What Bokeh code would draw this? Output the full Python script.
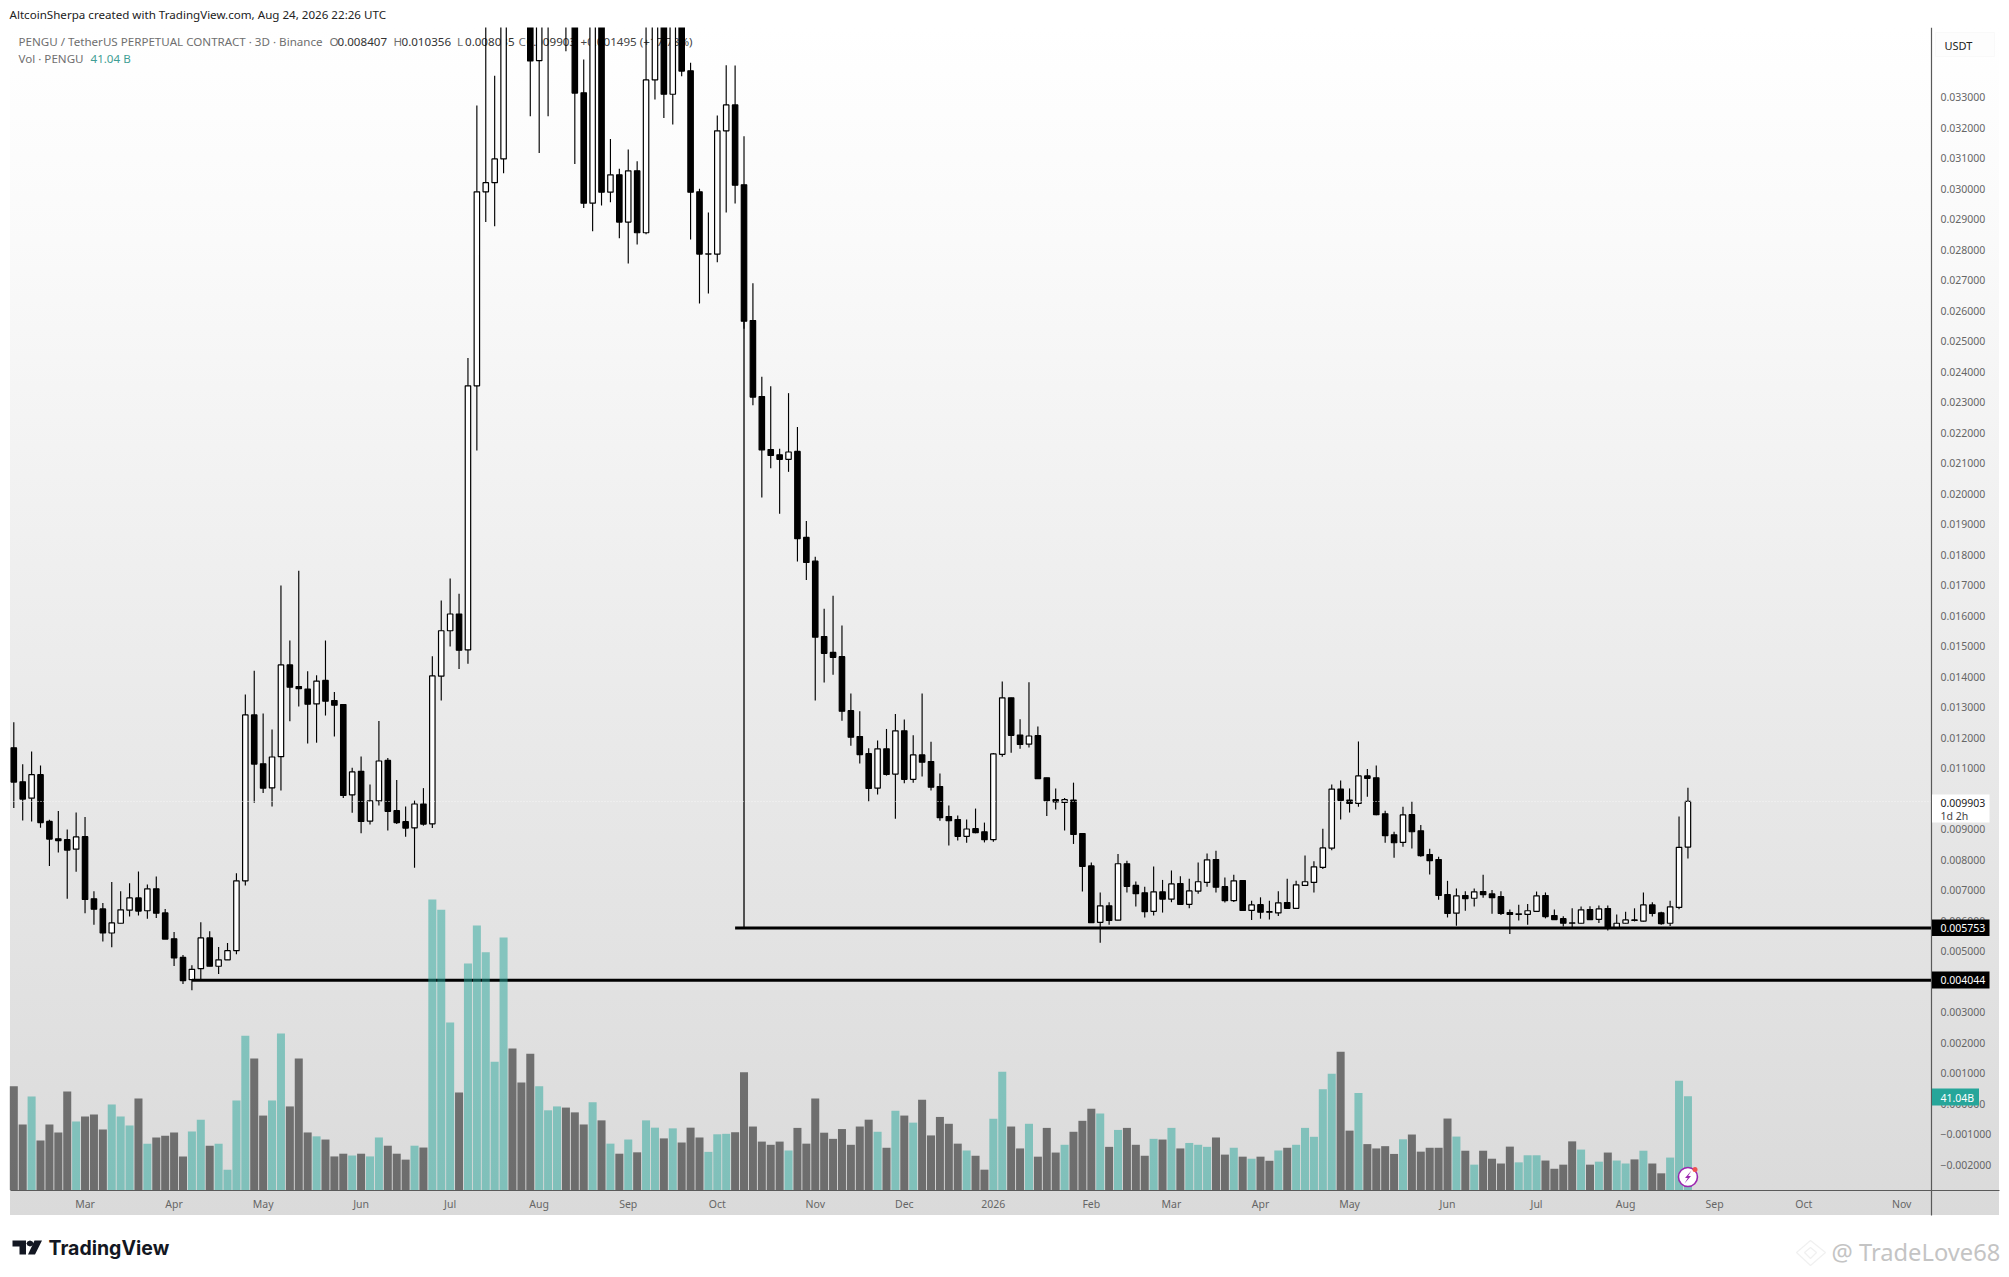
from bokeh.plotting import figure
from bokeh.models import (Range1d, LinearAxis, FixedTicker, Label, BoxAnnotation,
                          PolyAnnotation, ColumnDataSource)
from bokeh.embed import file_html
from bokeh.resources import INLINE

# Prices in units of 0.001 USDT, one entry per 3-day candle
opens = [11.66,10.55,10.01,10.78,9.25,8.68,8.65,8.34,8.75,6.71,
 6.38,5.59,5.91,6.34,6.74,6.32,7.04,6.25,5.40,4.79,
 4.06,4.42,5.43,4.50,4.71,5.01,7.30,12.74,11.14,10.35,
 11.37,14.38,13.67,13.59,13.10,13.87,13.21,13.08,10.12,10.89,
 9.26,9.92,11.25,9.60,9.24,9.04,9.82,9.17,14.01,15.50,
 16.05,14.87,23.53,29.89,30.19,30.97,40.00,40.00,38.50,34.19,
 36.00,36.00,37.00,38.00,33.14,29.52,37.00,29.88,30.45,28.90,
 30.58,28.55,33.56,36.50,33.09,37.00,33.86,29.89,27.85,27.85,
 31.89,32.74,30.12,25.67,23.18,21.44,21.27,21.12,21.38,18.56,
 17.78,15.31,14.79,14.65,12.88,12.03,11.47,10.34,11.63,10.80,
 12.22,10.63,11.43,11.21,10.39,9.41,9.31,8.76,9.01,8.91,
 8.65,11.45,13.30,12.08,11.78,12.06,10.68,9.96,9.87,9.95,
 8.85,7.79,5.94,6.48,6.01,7.86,7.15,6.91,6.30,6.94,
 6.70,7.21,6.53,6.96,7.25,8.00,7.11,6.65,7.31,6.33,
 6.52,6.29,6.25,6.59,6.40,7.15,7.25,7.74,8.37,10.31,
 9.95,9.84,10.74,10.68,9.50,8.81,8.56,9.47,8.94,8.16,
 8.00,6.85,6.24,6.82,6.73,6.95,6.87,6.78,6.26,6.20,
 6.20,6.30,6.82,6.16,6.06,5.92,5.91,6.36,6.04,6.39,
 5.77,5.91,6.02,5.98,6.51,6.25,5.91,6.43,8.407]
highs = [12.50,11.12,11.54,11.08,9.30,9.59,8.98,9.54,9.39,6.96,
 6.57,7.26,6.96,7.22,7.61,7.18,7.44,6.38,5.62,4.87,
 4.53,5.94,5.65,5.13,5.26,7.55,13.41,14.19,12.79,12.26,
 16.98,15.18,17.47,14.17,14.04,15.18,13.49,13.08,11.01,11.38,
 10.46,12.54,11.33,10.61,9.74,9.93,10.34,14.66,16.49,17.21,
 16.71,24.44,32.72,36.00,33.70,38.50,41.50,42.00,40.00,39.00,
 38.50,40.00,38.50,39.00,34.23,38.00,38.00,31.62,30.65,31.28,
 30.89,36.50,37.00,37.50,38.00,38.00,34.12,29.99,29.21,32.39,
 34.04,34.03,31.71,26.89,23.83,23.52,21.47,23.29,22.18,19.10,
 17.93,16.22,16.65,15.67,13.44,12.86,11.65,11.90,12.28,12.77,
 12.59,12.07,13.44,11.86,10.82,9.77,9.44,9.31,9.67,9.21,
 11.49,13.84,13.30,12.60,13.81,12.36,10.68,10.33,10.02,10.52,
 8.86,7.90,6.92,6.60,8.18,7.96,7.28,7.11,7.77,7.33,
 7.64,7.45,7.37,7.90,8.20,8.29,7.41,7.50,7.33,6.65,
 6.76,6.65,6.96,7.37,7.30,8.13,7.94,9.01,10.46,10.59,
 10.33,11.87,10.97,11.08,9.60,8.91,9.73,9.90,9.13,8.35,
 8.09,7.30,7.05,6.96,7.05,7.50,7.00,6.96,6.36,6.52,
 6.54,6.95,6.92,6.36,6.14,6.40,6.46,6.47,6.49,6.49,
 6.20,6.29,6.40,6.92,6.60,6.29,6.65,9.41,10.356]
lows = [9.69,9.28,9.25,9.04,7.79,8.23,6.71,7.60,6.24,5.86,
 5.31,5.12,5.91,6.13,6.16,6.06,6.08,5.39,4.51,3.92,
 3.71,4.06,4.50,4.25,4.71,4.89,7.15,9.86,10.18,9.74,
 10.26,12.53,13.02,11.80,11.83,12.72,12.03,10.02,9.53,8.86,
 9.15,9.77,8.95,9.16,8.75,7.73,9.11,9.03,13.21,14.98,
 14.25,14.42,21.41,28.90,28.76,30.50,36.50,36.20,32.37,31.16,
 32.37,35.80,34.50,30.80,29.36,28.60,29.44,29.55,28.37,27.54,
 28.16,28.50,32.92,32.31,32.10,33.68,28.33,26.23,26.56,27.58,
 29.21,29.51,25.40,22.89,19.87,20.83,19.34,20.71,17.77,17.16,
 13.21,13.80,14.06,12.55,11.73,11.15,9.90,10.13,10.75,9.34,
 10.50,10.52,10.72,10.26,9.27,8.46,8.62,8.55,8.86,8.56,
 8.58,11.37,11.50,11.63,11.67,10.64,9.43,9.64,8.95,8.51,
 6.95,5.93,5.27,5.86,6.01,6.92,6.46,6.10,6.16,6.26,
 6.60,6.53,6.40,6.88,7.11,6.92,6.59,6.61,6.33,6.02,
 6.06,6.03,6.15,6.40,6.39,7.15,6.92,7.69,8.30,9.31,
 9.54,9.73,10.06,9.45,8.55,8.06,8.42,8.36,8.09,7.51,
 6.68,6.10,5.83,6.32,6.46,6.75,6.22,6.18,5.56,6.00,
 5.86,6.29,6.07,6.02,5.80,5.78,5.90,6.02,5.92,5.67,
 5.77,5.90,5.97,5.97,6.13,5.86,5.82,6.37,8.035]
closes = [10.54,9.98,10.78,9.21,8.67,8.62,8.31,8.74,6.69,6.37,
 5.59,5.92,6.35,6.74,6.31,7.04,6.24,5.39,4.77,4.03,
 4.40,5.43,4.50,4.71,5.01,7.30,12.74,11.13,10.34,11.36,
 14.38,13.65,13.60,13.09,13.85,13.19,13.06,10.10,10.87,9.25,
 9.92,11.23,9.58,9.21,9.03,9.82,9.16,14.02,15.50,16.05,
 14.86,23.53,29.89,30.19,30.97,37.50,38.00,39.00,34.18,37.50,
 37.50,37.50,36.20,33.13,29.52,37.00,29.88,30.45,28.90,30.58,
 28.55,33.56,36.00,33.09,37.00,33.85,29.88,27.85,27.86,31.89,
 32.74,30.11,25.65,23.16,21.43,21.25,21.12,21.36,18.52,17.74,
 15.29,14.76,14.63,12.86,12.01,11.44,10.33,11.63,10.79,12.22,
 10.63,11.43,11.19,10.37,9.37,9.27,8.76,9.00,8.88,8.65,
 11.46,13.30,12.07,11.77,12.05,10.65,9.93,9.89,9.96,8.82,
 7.77,5.93,6.48,6.00,7.86,7.12,6.88,6.29,6.94,6.70,
 7.20,6.53,6.97,7.27,7.99,7.09,6.65,7.30,6.33,6.51,
 6.27,6.27,6.58,6.40,7.17,7.27,7.76,8.38,10.31,9.94,
 9.84,10.74,10.66,9.47,8.78,8.55,9.46,8.91,8.13,7.96,
 6.82,6.23,6.81,6.72,6.94,6.85,6.75,6.23,6.20,6.22,
 6.32,6.81,6.13,6.03,5.91,5.91,6.35,6.03,6.38,5.78,
 5.91,6.02,6.00,6.51,6.23,5.90,6.45,8.40,9.903]
# Volume in billions of PENGU
volumes = [45.4,28.7,41.0,21.7,28.7,25.2,43.1,30.0,32.2,33.1,
 26.5,37.5,32.2,28.2,40.1,20.3,23.0,23.8,25.2,14.7,
 25.6,30.8,19.4,20.3,8.9,39.2,67.6,57.6,32.6,39.2,
 68.5,36.6,57.6,25.2,23.5,22.1,14.7,15.9,15.1,15.9,
 14.7,23.0,19.4,15.9,13.3,19.4,18.6,127.2,122.8,73.4,
 42.7,99.2,115.8,104.1,56.2,110.6,62.0,47.1,59.7,45.4,
 34.9,36.6,36.1,34.0,28.7,38.4,30.5,20.3,15.9,22.1,
 16.5,30.5,27.3,22.6,27.0,20.8,27.3,23.0,16.7,24.4,
 24.6,25.3,51.6,27.8,21.2,19.8,21.2,17.3,27.2,20.3,
 40.1,25.1,22.4,26.7,19.8,27.8,30.8,25.5,18.5,34.7,
 32.6,29.5,39.5,23.9,32.0,29.0,20.3,17.3,15.0,8.9,
 31.2,51.8,27.8,18.2,29.0,14.6,27.2,16.4,19.8,25.5,
 30.3,35.6,33.5,18.9,26.3,27.2,19.8,15.0,22.4,22.1,
 27.2,18.2,20.6,19.8,18.9,23.0,15.5,18.5,14.6,13.7,
 14.6,12.8,17.3,18.5,19.8,27.2,23.3,44.1,50.9,60.5,
 26.0,42.5,20.1,18.2,19.2,15.8,22.2,24.3,16.8,18.5,
 18.5,31.3,23.4,17.2,11.1,17.2,13.7,11.6,19.0,12.1,
 15.2,15.2,12.9,9.3,11.1,21.3,17.7,11.1,12.4,16.4,
 12.9,11.6,13.4,17.2,11.6,7.3,14.2,47.9,41.04]

month_ticks = [8,18,28,39,49,59,69,79,90,100,110,121,130,140,150,161,171,181,191,201,212]
month_labels = ["Mar","Apr","May","Jun","Jul","Aug","Sep","Oct","Nov","Dec","2026",
                "Feb","Mar","Apr","May","Jun","Jul","Aug","Sep","Oct","Nov"]
price_ticks = list(range(-2, 34))
price_labels = ["\u22120.002000","\u22120.001000","0.000000","0.001000","0.002000","0.003000",
 "0.004000","0.005000","0.006000","0.007000","0.008000","0.009000","0.010000","0.011000",
 "0.012000","0.013000","0.014000","0.015000","0.016000","0.017000","0.018000","0.019000",
 "0.020000","0.021000","0.022000","0.023000","0.024000","0.025000","0.026000","0.027000",
 "0.028000","0.029000","0.030000","0.031000","0.032000","0.033000"]
support_levels = [5.753, 4.044]
support_starts = [81, 20]
last_price = 9.903

# Reference-pixel helpers for decoration only
FL, FT, FR, FB = 10, 27, 1931, 1189.5
W, H = 2009, 1277
def fx(px): return (px - 13.3) / 8.905
def fy(py): return 36.164 - py / 30.5

FONT = "Noto Sans"
p = figure(width=W, height=H, output_backend="svg", toolbar_location=None,
           x_range=Range1d(fx(0), fx(W)), y_range=Range1d(fy(H), fy(0)),
           x_axis_location=None, y_axis_location=None, min_border=0,
           background_fill_color=None, border_fill_color=None, outline_line_color=None)
p.grid.visible = False
p.styles = {
    "background-image": "linear-gradient(#ffffff, #fafafa 18%, #ebebeb 55%, #dadada 100%)",
    "background-repeat": "no-repeat",
    "background-size": "1989px 1188px",
    "background-position": "10px 27px",
}
p.extra_y_ranges = {"vol": Range1d(-(H - FB) * 0.438, FB * 0.438)}

# axes, pinned inside the full-page frame
ax_y = LinearAxis(ticker=FixedTicker(ticks=price_ticks),
                  major_label_overrides=dict(zip(price_ticks, price_labels)),
                  major_tick_line_color=None, minor_tick_line_color=None,
                  major_tick_out=0, major_tick_in=0, minor_tick_out=0, minor_tick_in=0,
                  axis_line_color="#5a5a5a", axis_line_width=1.2,
                  major_label_standoff=9, major_label_text_font=FONT,
                  major_label_text_font_size="10.5px", major_label_text_color="#666666",
                  fixed_location=fx(FR), bounds=(fy(1215), fy(FT)))
p.add_layout(ax_y, "right")
ax_x = LinearAxis(ticker=FixedTicker(ticks=month_ticks),
                  major_label_overrides=dict(zip(month_ticks, month_labels)),
                  major_tick_line_color=None, minor_tick_line_color=None,
                  major_tick_out=0, major_tick_in=0, minor_tick_out=0, minor_tick_in=0,
                  axis_line_color="#5a5a5a", axis_line_width=1.0,
                  major_label_standoff=7, major_label_text_font=FONT,
                  major_label_text_font_size="10.5px", major_label_text_color="#666666",
                  fixed_location=fy(FB), bounds=(fx(FL), fx(1998.5)))
p.add_layout(ax_x, "below")

# candles running off the pane are cut under the white band at the top of the page
ceiling = fy(8)
def cut(v): return min(v, ceiling)

idx = list(range(len(opens)))
up = [c >= o for o, c in zip(opens, closes)]
src = ColumnDataSource(dict(
    x=idx, vol=volumes,
    high=[cut(v) for v in highs], low=[cut(v) for v in lows],
    top=[cut(max(o, c)) for o, c in zip(opens, closes)],
    bot=[cut(min(o, c)) for o, c in zip(opens, closes)],
    body=["#ffffff" if u else "#000000" for u in up],
    volc=["#26a69a" if u else "#000000" for u in up],
))

def txt(x, y, t, size, color="#6f6f6f", style="normal", level="annotation", align="left", font=FONT):
    p.add_layout(Label(x=fx(x), y=fy(y), text=t, text_font=font, text_font_size=size, text_color=color,
                       text_baseline="middle", text_align=align, text_font_style=style, level=level))

def box(x0, x1, y0, y1, fill, line=None):
    p.add_layout(BoxAnnotation(left=fx(x0), right=fx(x1), top=fy(y0), bottom=fy(y1),
                               fill_color=fill, fill_alpha=1, line_color=line, level="annotation",
                               line_width=1))

def poly(pts, fill, line=None):
    p.add_layout(PolyAnnotation(xs=[fx(a) for a, b in pts], ys=[fy(b) for a, b in pts],
                                fill_color=fill, fill_alpha=1.0, line_color=line, line_width=1.2,
                                level="annotation"))

# header inside the pane lies beneath the candles
txt(18, 41, "PENGU / TetherUS PERPETUAL CONTRACT \u00b7 3D \u00b7 Binance", "11.6px", level="underlay")
for x, head, val in [(329, "O", "0.008407"), (393, "H", "0.010356"),
                     (456.5, "L", "0.008035"), (518, "C", "0.009903")]:
    txt(x, 41, head, "11.6px", level="underlay")
    txt(x + 8, 41, val, "11.6px", "#333333", level="underlay")
txt(580, 41, "+0.001495 (+17.78%)", "11.6px", "#444444", level="underlay")
txt(18, 58, "Vol \u00b7 PENGU", "11.6px", level="underlay")
txt(90, 58, "41.04 B", "11.6px", "#3f9e95", level="underlay")

# candles
p.segment(x0="x", y0="low", x1="x", y1="high", source=src, line_color="#000000", line_width=1.15)
p.vbar(x="x", bottom="bot", top="top", width=0.61, source=src, fill_color="body",
       line_color="#000000", line_width=1.2)

# drawn levels
p.segment(x0=support_starts, y0=support_levels, x1=[fx(FR)] * 2, y1=support_levels,
          line_color="#000000", line_width=3)
p.segment(x0=[82], y0=[support_levels[0]], x1=[82], y1=[closes[82]],
          line_color="#000000", line_width=1.3)

# volume
p.vbar(x="x", bottom=0, top="vol", width=0.9, source=src, y_range_name="vol",
       fill_color="volc", fill_alpha=0.5, line_color=None)

# last price dotted line
p.segment(x0=[fx(FL)], y0=[last_price], x1=[fx(FR)], y1=[last_price], line_color="#f6f6f6",
          line_width=1, line_dash="1 2")

# alert icon on the last volume bar
p.scatter(x=[188], y=[fy(1176.5)], size=19, marker="circle", fill_color="#ffffff",
          line_color="#9c27b0", line_width=1.6)
p.patch([fx(1691), fx(1684.5), fx(1687.3), fx(1684), fx(1690.5), fx(1687.7)],
        [fy(1170), fy(1177.5), fy(1177.5), fy(1183), fy(1175.5), fy(1175.5)],
        fill_color="#9c27b0", line_color=None)
p.scatter(x=[fx(1694.5)], y=[fy(1169)], size=5, marker="circle", fill_color="#ef5350", line_color=None)

# white page band above the pane hides what runs off the top of the pane
box(-5, W + 5, -20, FT, "#ffffff")
txt(9, 13.5, "AltcoinSherpa created with TradingView.com, Aug 24, 2026 22:26 UTC", "11.6px", "#222222")

# price scale tags
box(1935, 1994, 32, 56, "#fdfdfd", "#f0f0f0")
txt(1944, 44.5, "USDT", "11px", "#222222")
box(1931.5, 1989, 794, 822, "#ffffff")
txt(1940, 802, "0.009903", "10.5px", "#222222")
txt(1940, 815, "1d 2h", "10.5px", "#444444")
box(1931.5, 1989, 919, 935.5, "#000000")
txt(1940, 927.5, "0.005753", "10.5px", "#ffffff")
box(1931.5, 1989, 971, 988, "#000000")
txt(1940, 979.5, "0.004044", "10.5px", "#ffffff")
box(1931.5, 1978.5, 1088, 1105, "#26a69a")
txt(1940, 1097, "41.04B", "10.5px", "#ffffff")

# TradingView brand
poly([(12, 1240), (25.5, 1240), (25.5, 1254), (19, 1254), (19, 1246), (12, 1246)], "#131722")
poly([(34, 1240), (41.5, 1240), (34.5, 1254), (27.5, 1254)], "#131722")
poly([(29.5, 1240), (32, 1241), (33, 1243), (32, 1245), (29.5, 1246), (27, 1245), (26, 1243), (27, 1241)], "#131722")
txt(48, 1247, "TradingView", "19.5px", "#131722", style="bold", font="Inter")

# watermark
poly([(1810, 1240), (1825, 1252), (1810, 1265), (1796, 1252)], "#ffffff", "#cdcdcd")
poly([(1810, 1247), (1816, 1252), (1810, 1258), (1804, 1252)], "#ffffff", "#cdcdcd")
txt(1831, 1251, "@ TradeLove68", "23.7px", "#c4c4c4")

open("out.html", "w").write(file_html(p, INLINE))
